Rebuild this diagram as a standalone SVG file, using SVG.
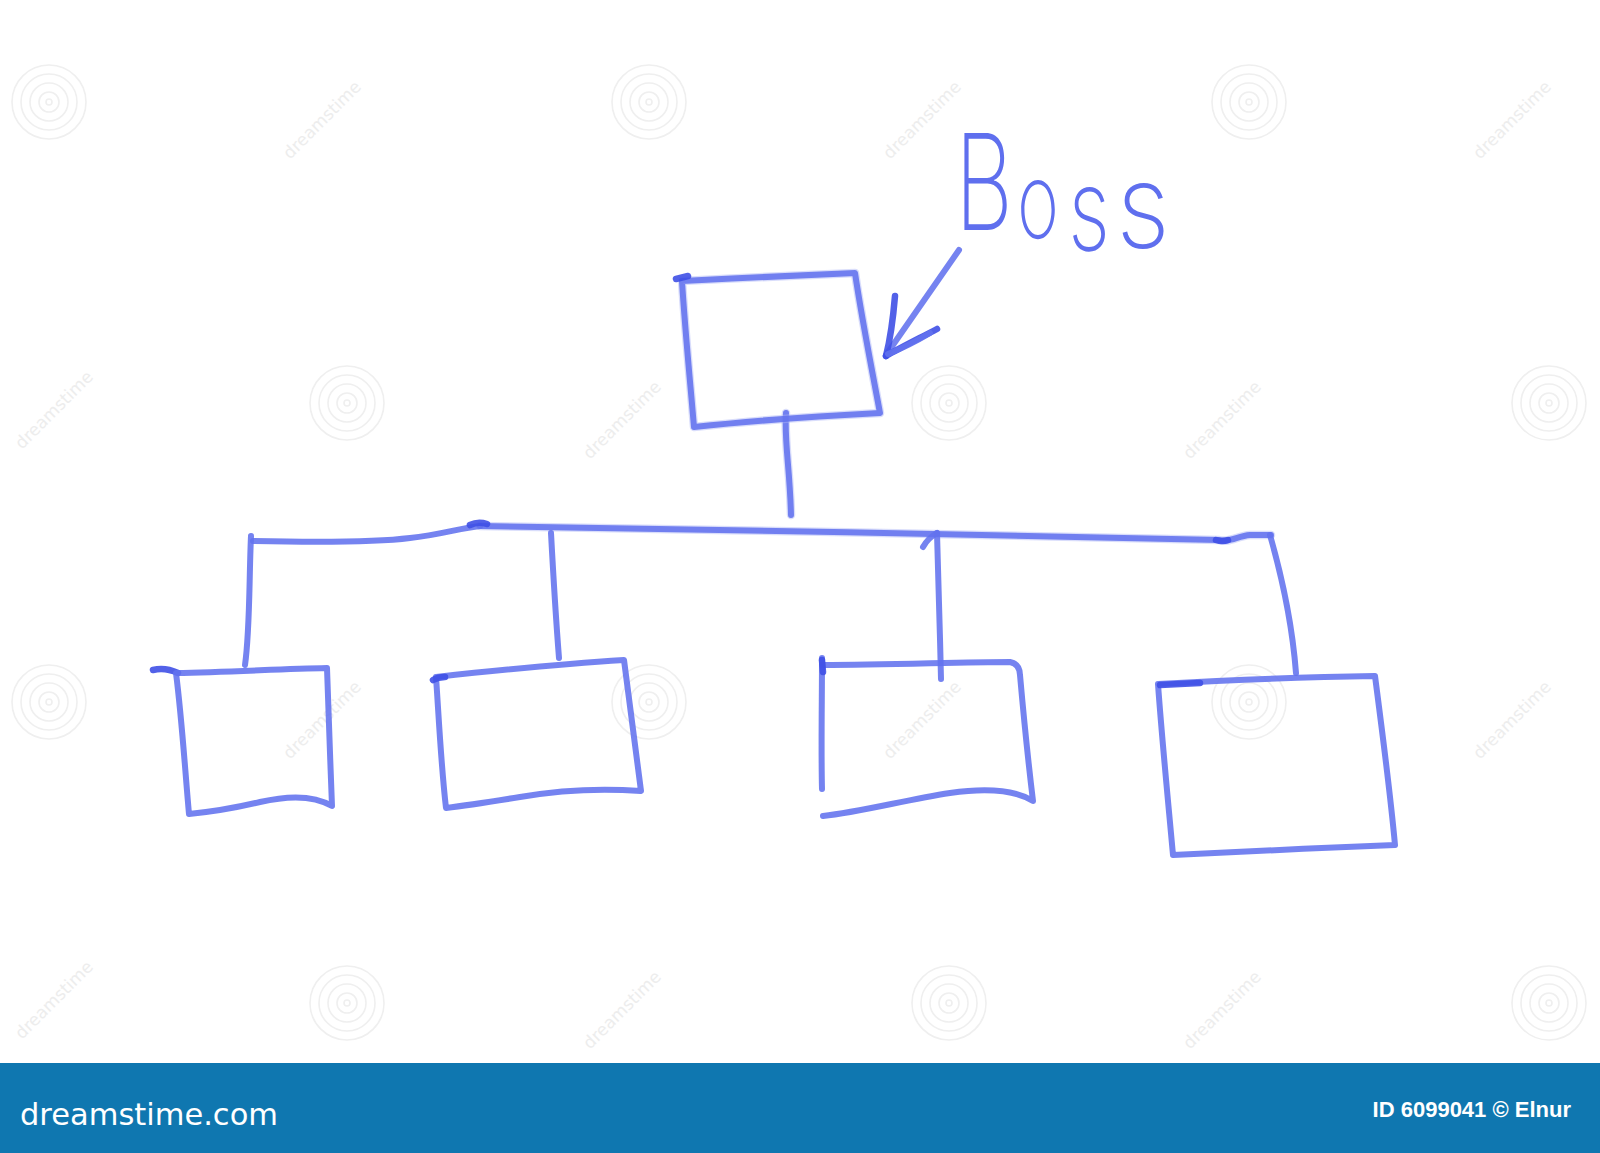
<svg xmlns="http://www.w3.org/2000/svg" width="1600" height="1153" viewBox="0 0 1600 1153">
<style>
.ink{fill:none;stroke:#6272ee;stroke-width:6;stroke-linecap:round;stroke-linejoin:round;opacity:0.88}
.glow{fill:none;stroke:#aab3f6;stroke-width:8.5;stroke-linecap:round;stroke-linejoin:round;opacity:0.45}
.dark{fill:none;stroke:#3f50e6;stroke-width:6.5;stroke-linecap:round;opacity:0.9}
.wm{fill:none;stroke:#efefef;stroke-width:1.6}
.wmt{font-family:"DejaVu Sans",sans-serif;font-size:17px;fill:#ededed}
.boss{font-family:"Inter","DejaVu Sans",sans-serif;font-weight:200;fill:#5f6fee}
</style>
<defs>
<g id="spiral">
<circle r="37" class="wm"/><circle r="28" class="wm"/><circle r="19" class="wm"/><circle r="10" class="wm"/><circle r="3" class="wm"/>
</g>
</defs>
<rect width="1600" height="1153" fill="#ffffff"/>
<g id="watermarks">
<use href="#spiral" x="49" y="102"/><use href="#spiral" x="649" y="102"/><use href="#spiral" x="1249" y="102"/>
<use href="#spiral" x="347" y="403"/><use href="#spiral" x="949" y="403"/><use href="#spiral" x="1549" y="403"/>
<use href="#spiral" x="49" y="702"/><use href="#spiral" x="649" y="702"/><use href="#spiral" x="1249" y="702"/>
<use href="#spiral" x="347" y="1003"/><use href="#spiral" x="949" y="1003"/><use href="#spiral" x="1549" y="1003"/>
<text class="wmt" transform="translate(290,160) rotate(-45)">dreamstime</text>
<text class="wmt" transform="translate(890,160) rotate(-45)">dreamstime</text>
<text class="wmt" transform="translate(1480,160) rotate(-45)">dreamstime</text>
<text class="wmt" transform="translate(22,450) rotate(-45)">dreamstime</text>
<text class="wmt" transform="translate(590,460) rotate(-45)">dreamstime</text>
<text class="wmt" transform="translate(1190,460) rotate(-45)">dreamstime</text>
<text class="wmt" transform="translate(290,760) rotate(-45)">dreamstime</text>
<text class="wmt" transform="translate(890,760) rotate(-45)">dreamstime</text>
<text class="wmt" transform="translate(1480,760) rotate(-45)">dreamstime</text>
<text class="wmt" transform="translate(22,1040) rotate(-45)">dreamstime</text>
<text class="wmt" transform="translate(590,1050) rotate(-45)">dreamstime</text>
<text class="wmt" transform="translate(1190,1050) rotate(-45)">dreamstime</text>
</g>

<g id="connectors">
<path class="glow" d="M 786 413 C 784 440 790 470 791 515"/>
<path class="ink" d="M 786 413 C 784 440 790 470 791 515"/>
<path class="glow" d="M 480 526 C 700 530 1000 534 1219 540 C 1228 543 1238 536 1250 535 L 1271 535"/>
<path class="ink" d="M 480 526 C 700 530 1000 534 1219 540 C 1228 543 1238 536 1250 535 L 1271 535"/>
<path class="ink" d="M 253 541 C 300 542 370 543 410 538 C 440 535 460 528 480 526"/>
<path class="dark" d="M 470 525 Q 478 521 487 524"/>
<path class="dark" d="M 1216 540 Q 1222 542 1228 540"/>
<path class="ink" d="M 251 536 C 249 580 250 630 245 665"/>
<path class="ink" d="M 551 533 C 553 570 556 620 559 658"/>
<path class="ink" d="M 937 533 C 938 580 940 630 941 679"/>
<path class="ink" d="M 923 547 Q 928 538 937 533"/>
<path class="ink" d="M 1270 535 C 1280 570 1292 620 1296 673"/>
<path class="ink" d="M 959 250 L 886 355"/>
<path class="dark" d="M 895 296 C 893 320 890 340 886 356"/>
<path class="dark" d="M 937 329 C 920 338 900 348 886 356"/>
<path class="ink" d="M 930 333 C 915 342 898 350 888 354"/>
</g>

<g id="node-boss">
<path class="glow" d="M 682 281 C 740 278 800 275 855 273 C 862 320 872 370 880 413 C 820 416 750 421 694 427 C 690 380 685 330 682 281 Z"/>
<path class="ink" d="M 682 281 C 740 278 800 275 855 273 C 862 320 872 370 880 413 C 820 416 750 421 694 427 C 690 380 685 330 682 281 Z"/>
<path class="dark" d="M 676 279 L 688 276"/>
</g>
<g id="label-boss">
<text class="boss"><tspan x="955" y="230" font-size="133" textLength="58" lengthAdjust="spacingAndGlyphs">B</tspan><tspan x="1017" y="238" font-size="104" textLength="42" lengthAdjust="spacingAndGlyphs">o</tspan><tspan x="1068" y="250" font-size="114" textLength="42" lengthAdjust="spacingAndGlyphs">s</tspan><tspan x="1116" y="248" font-size="118" textLength="54" lengthAdjust="spacingAndGlyphs">s</tspan></text>
</g>

<g id="node-1">
<path class="dark" d="M 153 670 Q 165 667 178 673"/>
<path class="ink" d="M 176 673 C 230 672 280 669 327 668 C 329 715 330 760 332 806 C 315 796 290 795 260 802 C 235 808 210 812 189 814 C 185 770 182 720 176 673 Z"/>
</g>
<g id="node-2">
<path class="ink" d="M 436 677 C 500 670 560 664 624 660 C 630 705 636 750 641 791 C 600 788 560 790 520 797 C 495 801 470 805 446 808 C 441 765 439 720 436 677 Z"/>
<path class="dark" d="M 433 680 Q 438 677 445 677"/>
</g>
<g id="node-3">
<path class="ink" d="M 822 658 C 822 700 821 750 822 789"/>
<path class="ink" d="M 822 665 C 890 665 960 662 1010 662 Q 1020 664 1020 675 C 1024 720 1028 760 1033 801 C 1015 790 985 788 950 793 C 905 800 860 812 823 816"/>
<path class="dark" d="M 822 660 L 823 672"/>
</g>
<g id="node-4">
<path class="ink" d="M 1158 684 C 1230 680 1300 677 1375 676 C 1382 730 1390 790 1395 845 C 1320 848 1250 851 1173 855 C 1168 800 1162 740 1158 684 Z"/>
<path class="dark" d="M 1160 685 L 1200 683"/>
</g>

<g id="footer">
<rect x="0" y="1063" width="1600" height="90" fill="#0f77b0"/>
<text x="20" y="1125" font-family="'DejaVu Sans',sans-serif" font-size="31" fill="#ffffff" textLength="258" lengthAdjust="spacingAndGlyphs">dreamstime.com</text>
<text x="1571" y="1117" text-anchor="end" font-family="'Liberation Sans',Arial,sans-serif" font-weight="bold" font-size="22" fill="#ffffff">ID 6099041 © Elnur</text>
</g>
</svg>
